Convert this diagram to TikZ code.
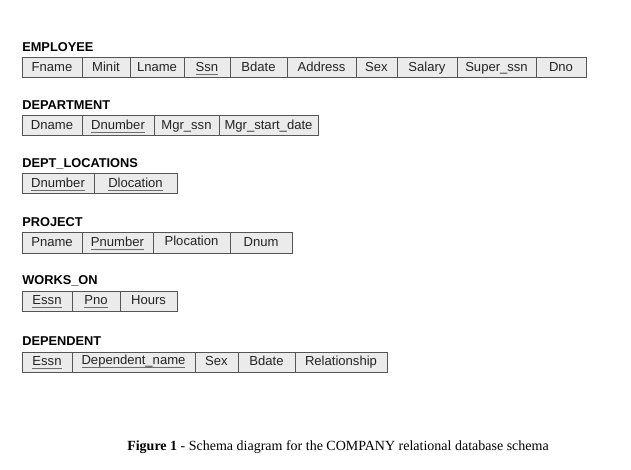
\documentclass[tikz,border=0pt]{standalone}
\usepackage{fontspec}
\setmainfont{Liberation Serif}
\setsansfont{Liberation Sans}
\usepackage{tikz}

\definecolor{cellfill}{RGB}{235,235,235}
\definecolor{celledge}{RGB}{85,85,85}
\definecolor{keyline}{RGB}{110,110,110}
\definecolor{inktext}{RGB}{35,35,35}

% key attribute: text with a grey line under it
\newcommand{\pkey}[1]{\setbox0\hbox{#1}\rlap{\color{keyline}\rule[-2.6pt]{\wd0}{0.8pt}}\box0}

\tikzset{
  attr/.style={draw=celledge, fill=cellfill, line width=0.75pt, anchor=north west,
    inner sep=0pt, outer sep=0pt, minimum width=#1*0.75pt, minimum height=15pt,
    text height=8.4pt, text depth=2.6pt, text=inktext,
    font=\sffamily\fontsize{9.8}{11}\selectfont},
  relname/.style={anchor=base west, inner sep=0pt, text=black,
    font=\sffamily\bfseries\fontsize{9.6}{11}\selectfont}
}

\begin{document}
\begin{tikzpicture}[x=0.75pt,y=0.75pt,yscale=-1,xscale=1]
		\useasboundingbox (0,0) rectangle (631,470);
		
		% EMPLOYEE
		\node [relname] (employee) at (22,51.5) {EMPLOYEE};
		\node [attr=60] (emp-fname) at (22,58) {Fname};
		\node [attr=48] (emp-minit) at (82,58) {Minit};
		\node [attr=54] (emp-lname) at (130,58) {Lname};
		\node [attr=46] (emp-ssn) at (184,58) {\pkey{Ssn}};
		\node [attr=57] (emp-bdate) at (230,58) {Bdate};
		\node [attr=69] (emp-address) at (287,58) {Address};
		\node [attr=41] (emp-sex) at (356,58) {Sex};
		\node [attr=60] (emp-salary) at (397,58) {Salary};
		\node [attr=79] (emp-superssn) at (457,58) {Super\_ssn};
		\node [attr=50] (emp-dno) at (536,58) {Dno};
		
		% DEPARTMENT
		\node [relname] (department) at (22,109.5) {DEPARTMENT};
		\node [attr=60] (dep-dname) at (22,116) {Dname};
		\node [attr=72] (dep-dnumber) at (82,116) {\pkey{Dnumber}};
		\node [attr=65] (dep-mgrssn) at (154,116) {Mgr\_ssn};
		\node [attr=99] (dep-mgrstart) at (219,116) {Mgr\_start\_date};
		
		% DEPT_LOCATIONS
		\node [relname] (deptloc) at (22,167.5) {DEPT\_LOCATIONS};
		\node [attr=72] (loc-dnumber) at (22,174) {\pkey{Dnumber}};
		\node [attr=83] (loc-dlocation) at (94,174) {\pkey{Dlocation}};
		
		% PROJECT
		\node [relname] (project) at (22,226.5) {PROJECT};
		\node [attr=60] (prj-pname) at (22,233) {Pname};
		\node [attr=71] (prj-pnumber) at (82,233) {\pkey{Pnumber}};
		\node [attr=77] (prj-plocation) at (153,233) {\raisebox{1pt}{Plocation}};
		\node [attr=62] (prj-dnum) at (230,233) {Dnum};
		
		% WORKS_ON
		\node [relname] (workson) at (22,284.5) {WORKS\_ON};
		\node [attr=50] (won-essn) at (22,291) {\pkey{Essn}};
		\node [attr=48] (won-pno) at (72,291) {\pkey{Pno}};
		\node [attr=57] (won-hours) at (120,291) {Hours};
		
		% DEPENDENT
		\node [relname] (dependent) at (22,345.5) {DEPENDENT};
		\node [attr=50] (dpd-essn) at (22,352) {\pkey{Essn}};
		\node [attr=123] (dpd-name) at (72,352) {\raisebox{1pt}{\pkey{Dependent\_name}}};
		\node [attr=43] (dpd-sex) at (195,352) {Sex};
		\node [attr=57] (dpd-bdate) at (238,352) {Bdate};
		\node [attr=92] (dpd-relation) at (295,352) {Relationship};
		
		% Caption
		\node [anchor=base, inner sep=0pt, font=\rmfamily\fontsize{10.5}{12}\selectfont] (caption) at (338,450) {\textbf{Figure 1} - Schema diagram for the COMPANY relational database schema};
\end{tikzpicture}
\end{document}
